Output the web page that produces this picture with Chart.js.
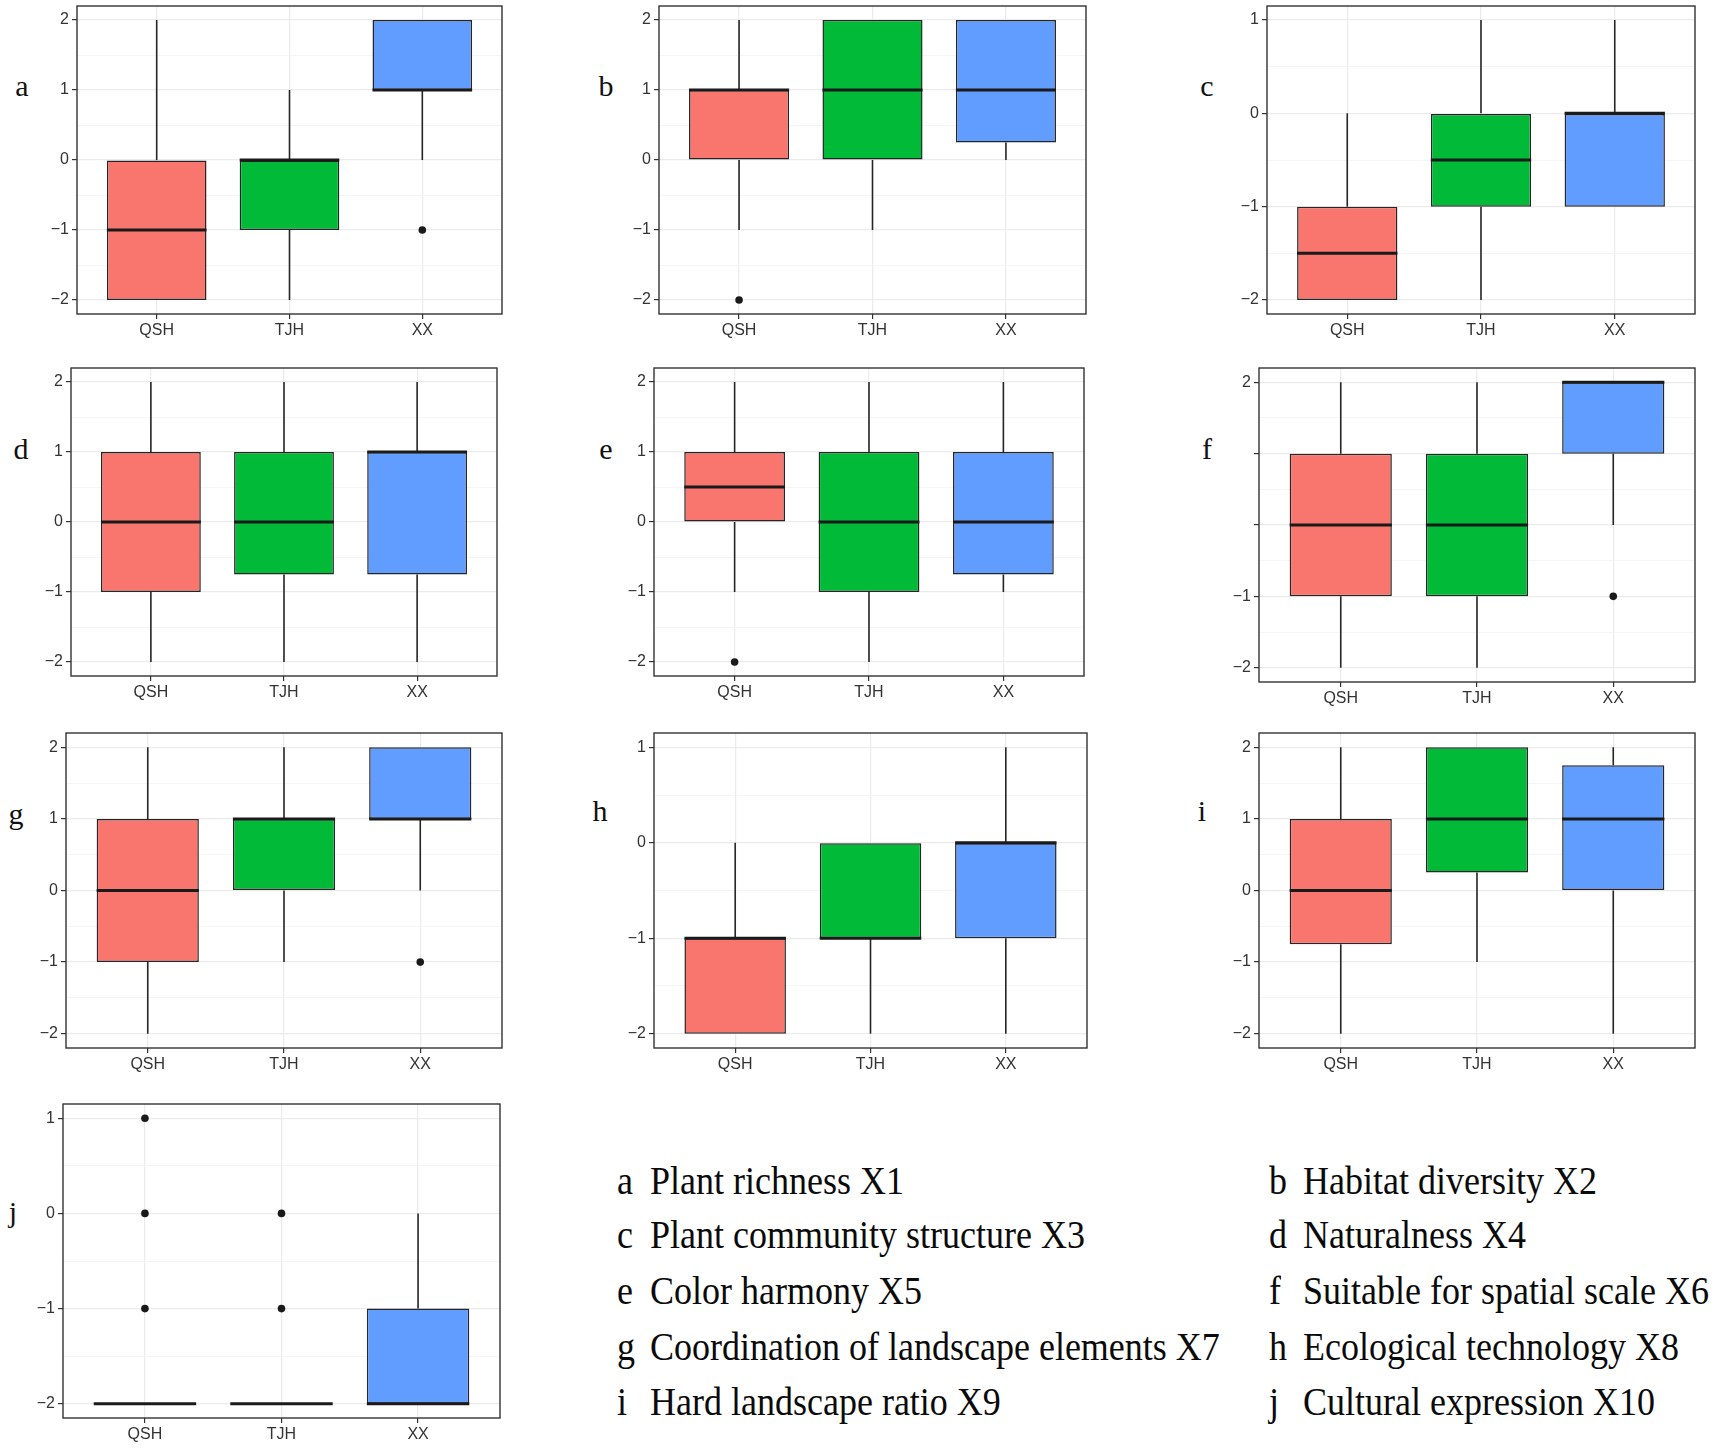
<!DOCTYPE html>
<html>
<head>
<meta charset="utf-8">
<script src="https://cdn.jsdelivr.net/npm/chart.js@4.4.0/dist/chart.umd.min.js"></script>
<style>
    body { margin: 0; background: #fff; width: 1720px; height: 1449px; position: relative; overflow: hidden; }
    .panel { position: absolute; }
    .tag { position: absolute; font-family: "Liberation Serif", serif; font-size: 30px; line-height: 36px; color: #111; }
    .legend { position: absolute; font-family: "Liberation Serif", serif; font-size: 36px; line-height: 40px; color: #0a0a0a; white-space: nowrap; transform: scaleY(1.1); transform-origin: left center; }
</style>
</head>
<body>
<script>
// ========== DATA ==========

const categories = ['QSH', 'TJH', 'XX'];
const panelNames = ['a', 'b', 'c', 'd', 'e', 'f', 'g', 'h', 'i', 'j'];
const legendTexts = [
    'Plant richness X1',
    'Habitat diversity X2',
    'Plant community structure X3',
    'Naturalness X4',
    'Color harmony X5',
    'Suitable for spatial scale X6',
    'Coordination of landscape elements X7',
    'Ecological technology X8',
    'Hard landscape ratio X9',
    'Cultural expression X10'
];

// box statistics: one row per panel (a..j), one value per category (QSH, TJH, XX)
const whiskerLow = [
    [-2, -2, 0],
    [-1, -1, 0],
    [-2, -2, -1],
    [-2, -2, -2],
    [-1, -2, -1],
    [-2, -2, 0],
    [-2, -1, 0],
    [-2, -2, -2],
    [-2, -1, -2],
    [-2, -2, -2]
];
const hingeLow = [
    [-2, -1, 1],
    [0, 0, 0.25],
    [-2, -1, -1],
    [-1, -0.75, -0.75],
    [0, -1, -0.75],
    [-1, -1, 1],
    [-1, 0, 1],
    [-2, -1, -1],
    [-0.75, 0.25, 0],
    [-2, -2, -2]
];
const medians = [
    [-1, 0, 1],
    [1, 1, 1],
    [-1.5, -0.5, 0],
    [0, 0, 1],
    [0.5, 0, 0],
    [0, 0, 2],
    [0, 1, 1],
    [-1, -1, 0],
    [0, 1, 1],
    [-2, -2, -2]
];
const hingeHigh = [
    [0, 0, 2],
    [1, 2, 2],
    [-1, 0, 0],
    [1, 1, 1],
    [1, 1, 1],
    [1, 1, 2],
    [1, 1, 2],
    [-1, 0, 0],
    [1, 2, 1.75],
    [-2, -2, -1]
];
const whiskerHigh = [
    [2, 1, 2],
    [2, 2, 2],
    [0, 1, 1],
    [2, 2, 2],
    [2, 2, 2],
    [2, 2, 2],
    [2, 2, 2],
    [0, 0, 1],
    [2, 2, 2],
    [-2, -2, 0]
];
const outliers = [
    [[], [], [-1]],
    [[-2], [], []],
    [[], [], []],
    [[], [], []],
    [[-2], [], []],
    [[], [], [-1]],
    [[], [], [-1]],
    [[], [], []],
    [[], [], []],
    [[1, 0, -1], [0, -1], []]
];

// y ticks (integers labelled, halves are minor grid lines)
const yTicksWide = [-2, -1.5, -1, -0.5, 0, 0.5, 1, 1.5, 2];
const yTicksNarrow = [-2, -1.5, -1, -0.5, 0, 0.5, 1];
const panelTicks = [yTicksWide, yTicksWide, yTicksNarrow, yTicksWide, yTicksWide,
                    yTicksWide, yTicksWide, yTicksNarrow, yTicksWide, yTicksNarrow];
// panel f lost its 1 and 0 labels in the original figure
const hiddenLabels = [[], [], [], [], [], [0, 1], [], [], [], []];

// ========== LAYOUT ==========

const fills = ['#F8766D', '#00BA38', '#619CFF'];
// panel frame: left, top, right, bottom
const frames = [
    [77, 6, 502, 314], [659, 6, 1086, 314], [1267, 6, 1695, 314],
    [71, 368, 497, 676], [654, 368, 1084, 676], [1259, 368, 1695, 682],
    [66, 733, 502, 1048], [654, 733, 1087, 1048], [1259, 733, 1695, 1048],
    [63, 1104, 500, 1418]
];
const tagCenters = [
    [22, 88], [606, 88], [1207, 88],
    [21, 451], [606, 451], [1207, 451],
    [16, 816], [600, 813], [1202, 813],
    [13, 1214]
];
const legendRows = [1183, 1237, 1293, 1349, 1404];
const legendCols = [[617, 650], [1269, 1303]];

const Y_AXIS_W = 40;
const X_AXIS_H = 32;
const PAD = 14;
const tickFont = { family: '"Liberation Sans", Arial, sans-serif', size: 16 };

function formatTick(v) {
    if (v < 0) return '\u2212' + Math.abs(v);
    return String(v);
}

const boxPlugin = {
    id: 'boxStats',
    beforeDatasetsDraw(chart) {
        const p = chart.options.plugins.boxStats.panel;
        const { ctx } = chart;
        const x = chart.scales.x;
        const y = chart.scales.y;
        ctx.save();
        ctx.strokeStyle = '#262626';
        ctx.lineWidth = 1.6;
        categories.forEach((c, i) => {
            const px = x.getPixelForValue(i + 1);
            ctx.beginPath();
            ctx.moveTo(px, y.getPixelForValue(whiskerHigh[p][i]));
            ctx.lineTo(px, y.getPixelForValue(hingeHigh[p][i]));
            ctx.moveTo(px, y.getPixelForValue(hingeLow[p][i]));
            ctx.lineTo(px, y.getPixelForValue(whiskerLow[p][i]));
            ctx.stroke();
        });
        ctx.restore();
    },
    afterDatasetsDraw(chart) {
        const p = chart.options.plugins.boxStats.panel;
        const { ctx, chartArea } = chart;
        const y = chart.scales.y;
        const bars = chart.getDatasetMeta(0).data;
        ctx.save();
        ctx.strokeStyle = '#1a1a1a';
        ctx.lineWidth = 3;
        bars.forEach((el, i) => {
            const { x, width } = el.getProps(['x', 'width'], true);
            const py = y.getPixelForValue(medians[p][i]);
            ctx.beginPath();
            ctx.moveTo(x - width / 2, py);
            ctx.lineTo(x + width / 2, py);
            ctx.stroke();
        });
        // panel border
        ctx.strokeStyle = '#333333';
        ctx.lineWidth = 1.4;
        ctx.strokeRect(chartArea.left, chartArea.top, chartArea.right - chartArea.left, chartArea.bottom - chartArea.top);
        ctx.restore();
    }
};

function makePanel(p) {
    const [l, t, r, b] = frames[p];
    const w = (r - l) + Y_AXIS_W + PAD;
    const h = (b - t) + PAD + X_AXIS_H;
    const canvas = document.createElement('canvas');
    canvas.className = 'panel';
    canvas.width = w;
    canvas.height = h;
    canvas.style.left = (l - Y_AXIS_W) + 'px';
    canvas.style.top = (t - PAD) + 'px';
    canvas.style.width = w + 'px';
    canvas.style.height = h + 'px';
    document.body.appendChild(canvas);

    const ticks = panelTicks[p];
    const yLo = ticks[0];
    const yHi = ticks[ticks.length - 1];
    const span = yHi - yLo;

    const outlierPoints = [];
    outliers[p].forEach((list, i) => list.forEach(v => outlierPoints.push({ x: i + 1, y: v })));

    const isMajor = v => Number.isInteger(v);

    new Chart(canvas, {
        type: 'bar',
        data: {
            datasets: [
                {
                    type: 'bar',
                    data: categories.map((c, i) => ({ x: i + 1, y: [hingeLow[p][i], hingeHigh[p][i]] })),
                    backgroundColor: fills,
                    borderColor: '#262626',
                    borderWidth: 1.5,
                    borderSkipped: false,
                    barPercentage: 0.75,
                    categoryPercentage: 1,
                    order: 2
                },
                {
                    type: 'scatter',
                    data: outlierPoints,
                    pointRadius: 3.8,
                    pointBackgroundColor: '#1a1a1a',
                    pointBorderWidth: 0,
                    order: 1
                }
            ]
        },
        options: {
            responsive: false,
            animation: false,
            devicePixelRatio: 1,
            layout: { padding: { top: PAD, right: PAD, left: 0, bottom: 0 } },
            plugins: {
                legend: { display: false },
                tooltip: { enabled: false },
                boxStats: { panel: p }
            },
            scales: {
                x: {
                    type: 'linear',
                    min: 0.4,
                    max: 3.6,
                    offset: false,
                    afterBuildTicks: ax => { ax.ticks = categories.map((c, i) => ({ value: i + 1 })); },
                    afterFit: ax => { ax.height = X_AXIS_H; },
                    ticks: {
                        callback: v => categories[v - 1],
                        font: tickFont,
                        color: '#333333',
                        padding: 2,
                        maxRotation: 0,
                        autoSkip: false
                    },
                    grid: { offset: false, color: '#ebebeb', lineWidth: 1.2, tickLength: 5, tickColor: '#333', tickWidth: 1.2 },
                    border: { display: false }
                },
                y: {
                    min: yLo - span * 0.05,
                    max: yHi + span * 0.05,
                    beginAtZero: false,
                    afterBuildTicks: ax => { ax.ticks = ticks.map(v => ({ value: v })); },
                    afterFit: ax => { ax.width = Y_AXIS_W; },
                    ticks: {
                        callback: v => (isMajor(v) && !hiddenLabels[p].includes(v)) ? formatTick(v) : '',
                        font: tickFont,
                        color: '#333333',
                        padding: 3,
                        autoSkip: false
                    },
                    grid: {
                        color: ctx => isMajor(ctx.tick.value) ? '#ebebeb' : '#f3f3f3',
                        lineWidth: ctx => isMajor(ctx.tick.value) ? 1.2 : 0.8,
                        tickLength: 5,
                        tickColor: ctx => isMajor(ctx.tick.value) ? '#333' : 'rgba(0,0,0,0)',
                        tickWidth: 1.2
                    },
                    border: { display: false }
                }
            }
        },
        plugins: [boxPlugin]
    });
}

function addText(cls, text, left, top) {
    const el = document.createElement('div');
    el.className = cls;
    el.textContent = text;
    el.style.left = left + 'px';
    el.style.top = top + 'px';
    document.body.appendChild(el);
    return el;
}

panelNames.forEach((name, p) => {
    makePanel(p);
    const [cx, cy] = tagCenters[p];
    const tag = addText('tag', name, cx, cy - 20);
    tag.style.transform = 'translateX(-50%)';
});

// legend: left column a, c, e, g, i; right column b, d, f, h, j
panelNames.forEach((name, p) => {
    const col = legendCols[p % 2];
    const rowY = legendRows[Math.floor(p / 2)];
    addText('legend', name, col[0], rowY - 22);
    addText('legend', legendTexts[p], col[1], rowY - 22);
});
</script>
</body>
</html>
